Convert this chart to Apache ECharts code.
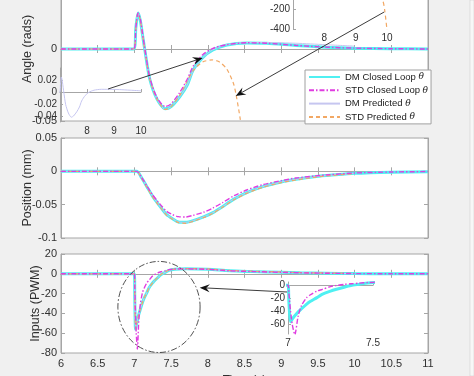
<!DOCTYPE html>
<html>
<head>
<meta charset="utf-8">
<script src="https://cdn.jsdelivr.net/npm/echarts@6/dist/echarts.min.js"></script>
<style>
  html, body { margin: 0; padding: 0; background: #f0f0f0; }
  #chart { width: 474px; height: 376px; }
</style>
</head>
<body>
<div id="chart"></div>
<script>
// --- angle (rads) ---
const angleT      = [6, 6.99, 7.02, 7.05, 7.08, 7.11, 7.14, 7.21, 7.31, 7.42, 7.5, 7.62, 7.72, 7.8, 7.93, 8.07, 8.26, 8.53, 8.8, 9.2, 9.6, 10, 10.5, 11];
const angleDM     = [0, 0, 0.015, 0.025, 0.02, 0.01, 0, -0.021, -0.035, -0.0415, -0.04, -0.033, -0.025, -0.0146, -0.006, -0.0007, 0.0028, 0.0042, 0.004, 0.0025, 0.0013, 0.0006, 0.0002, 0];
const angleSTD    = [0, 0, 0.015, 0.025, 0.021, 0.011, 0.001, -0.02, -0.034, -0.04, -0.038, -0.03, -0.021, -0.012, -0.004, 0.0005, 0.003, 0.0043, 0.004, 0.0025, 0.0013, 0.0006, 0.0002, 0];
const angleDMPredT = [6, 6.99, 7.02, 7.05, 7.08, 7.11, 7.14, 7.21, 7.31, 7.42, 7.5, 7.62, 7.72, 7.8, 7.93, 8.07, 8.26, 8.53, 8.8, 9.2, 9.6, 10];
const angleDMPred  = [0, 0, 0.015, 0.025, 0.02, 0.01, 0, -0.021, -0.035, -0.042, -0.04, -0.033, -0.025, -0.015, -0.006, -0.0005, 0.003, 0.0045, 0.0045, 0.004, 0.003, 0.002];
const angleSTDPredT = [6, 6.99, 7.02, 7.05, 7.08, 7.11, 7.14, 7.21, 7.31, 7.42, 7.5, 7.62, 7.72, 7.8, 7.93, 8.06, 8.16, 8.26, 8.35, 8.39, 8.44, 8.5, 8.7, 9.0, 9.3, 9.6, 9.75, 9.87, 9.93, 10];
const angleSTDPred  = [0, 0, 0.015, 0.025, 0.02, 0.01, 0, -0.021, -0.035, -0.042, -0.04, -0.032, -0.022, -0.015, -0.009, -0.0076, -0.009, -0.014, -0.024, -0.033, -0.048, -0.07, -0.3, -2, -10, -40, -75, -120, -220, -410];

// --- position (mm) ---
const posT    = [6, 7.03, 7.1, 7.17, 7.24, 7.31, 7.38, 7.44, 7.52, 7.6, 7.7, 7.8, 7.95, 8.07, 8.2, 8.35, 8.53, 8.75, 9.0, 9.2, 9.45, 9.66, 10, 10.5, 11];
const posDM   = [0, 0, -0.01, -0.023, -0.036, -0.047, -0.057, -0.065, -0.071, -0.076, -0.0765, -0.074, -0.068, -0.062, -0.053, -0.042, -0.032, -0.023, -0.016, -0.012, -0.008, -0.006, -0.003, -0.0012, -0.0005];
const posSTD  = [0, 0, -0.0095, -0.022, -0.034, -0.044, -0.053, -0.06, -0.065, -0.068, -0.0685, -0.066, -0.061, -0.055, -0.047, -0.037, -0.028, -0.02, -0.014, -0.01, -0.007, -0.005, -0.0025, -0.001, -0.0003];
const posPredT   = [6, 7.03, 7.1, 7.17, 7.24, 7.31, 7.38, 7.44, 7.52, 7.6, 7.7, 7.8, 7.95, 8.07, 8.2, 8.35, 8.53, 8.75, 9.0, 9.2, 9.45, 9.66, 10];
const posDMPred  = [0, 0, -0.01, -0.023, -0.036, -0.047, -0.057, -0.065, -0.071, -0.076, -0.0765, -0.074, -0.068, -0.062, -0.053, -0.042, -0.032, -0.023, -0.016, -0.012, -0.008, -0.006, -0.003];
const posSTDPred = [0, 0, -0.0105, -0.024, -0.037, -0.048, -0.058, -0.066, -0.072, -0.077, -0.078, -0.075, -0.069, -0.063, -0.054, -0.043, -0.033, -0.024, -0.017, -0.013, -0.009, -0.0065, -0.0035];

// --- inputs (PWM) ---
const inT   = [6, 7.0, 7.005, 7.015, 7.025, 7.04, 7.06, 7.08, 7.11, 7.13, 7.17, 7.2, 7.25, 7.28, 7.33, 7.37, 7.42, 7.47, 7.55, 7.7, 8.0, 8.3, 8.6, 9.0, 9.26, 9.6, 10, 10.5, 11];
const inDM  = [0, 0, -25, -56, -52, -47, -41, -36, -29, -25, -19, -14, -9, -6.5, -3, -0.5, 1.5, 3.5, 4.5, 5, 4.5, 3, 2.3, 1.5, 1, 0.6, 0.2, 0.1, 0];
const inSTD = [0, 0, -12, -40, -60, -76, -47, -31, -19, -15, -9, -6.5, -2, -0.5, 1.3, 2.2, 3.2, 4.2, 4.8, 5, 4.5, 3, 2.3, 1.5, 1, 0.6, 0.2, 0.1, 0];
const inPredT   = [6, 7.0, 7.005, 7.015, 7.025, 7.04, 7.06, 7.08, 7.11, 7.13, 7.17, 7.2, 7.25, 7.28, 7.33, 7.37, 7.42, 7.47, 7.55, 7.7, 8.0, 8.3, 8.6, 9.0, 9.26, 9.6, 10];
const inDMPred  = [0, 0, -25, -56, -52, -47, -41, -36, -29, -25, -19, -14, -9, -6.5, -3, -0.5, 1.5, 3.5, 4.5, 5, 4.5, 3, 2.3, 1.5, 1, 0.6, 0.2];
const inSTDPred = [0, 0, -25, -56, -52, -47, -41, -36, -29, -25, -19, -14, -9, -6.5, -3, -0.3, 1.8, 3.8, 4.8, 5.3, 4.9, 3.4, 2.7, 1.9, 1.3, 0.8, 0.4];

const legendNames = ['DM Closed Loop', 'STD Closed Loop', 'DM Predicted', 'STD Predicted'];

const FONT = 'Liberation Sans, Arial, sans-serif';
const AX = '#a6a6a6';
const TXT = '#303030';

const styles = {
    'DM Closed Loop':  { color: '#4ff0f2', width: 3, type: 'solid', z: 2 },
    'DM Predicted':    { color: '#c6c6f0', width: 1, type: 'solid', z: 3 },
    'STD Predicted':   { color: '#f2a864', width: 1.2, type: [4, 3], z: 4 },
    'STD Closed Loop': { color: '#e03ce0', width: 1.4, type: [5, 2, 1.5, 2], z: 5 }
};

const pairs = (t, v) => t.map((x, i) => [x, v[i]]);

function line(name, t, v, axis) {
    const s = styles[name];
    return {
        name, type: 'line', data: pairs(t, v),
        xAxisIndex: axis, yAxisIndex: axis,
        symbol: 'none', showSymbol: false, smooth: 0.25, clip: true, z: s.z,
        color: s.color, itemStyle: { color: s.color },
        lineStyle: { color: s.color, width: s.width, type: s.type }
    };
}

// main panels: grid 0 angle, 1 position, 2 inputs
const mainGrids = [
    { left: 61, top: -23, width: 367, height: 144 },
    { left: 61, top: 138, width: 367, height: 100 },
    { left: 61, top: 254, width: 367, height: 99 }
];
const yRanges = [
    { min: -0.05, max: 0.05, interval: 0.05, name: 'Angle (rads)', gap: 27 },
    { min: -0.1, max: 0.05, interval: 0.05, name: 'Position (mm)', gap: 27 },
    { min: -80, max: 20, interval: 20, name: 'Inputs (PWM)', gap: 19 }
];

const lbl = (size) => ({ color: TXT, fontFamily: FONT, fontSize: size });
const tick = { inside: true, length: 4, lineStyle: { color: AX } };

const grid = [], xAxis = [], yAxis = [];
mainGrids.forEach((g, i) => {
    grid.push(Object.assign({ show: true, backgroundColor: '#fff', borderColor: AX, borderWidth: 1, outerBoundsMode: 'none' }, g));
    const last = i === 2;
    xAxis.push({
        type: 'value', gridIndex: i, min: 6, max: 11, interval: 0.5,
        axisLine: { lineStyle: { color: AX } }, axisTick: tick, splitLine: { show: false },
        axisLabel: Object.assign({ show: last, margin: 5 }, lbl(11)),
        name: last ? 'Time (s)' : '', nameLocation: 'middle', nameGap: 22, nameMoveOverlap: false,
        nameTextStyle: lbl(12)
    });
    yAxis.push({
        type: 'value', gridIndex: i, min: yRanges[i].min, max: yRanges[i].max, interval: yRanges[i].interval,
        axisLine: { show: true, lineStyle: { color: AX } }, axisTick: tick, splitLine: { show: false },
        axisLabel: Object.assign({ margin: 4 }, lbl(11)),
        name: yRanges[i].name, nameLocation: 'middle', nameGap: yRanges[i].gap, nameMoveOverlap: false,
        nameTextStyle: lbl(12.5)
    });
});
// mirrored ticks (top / right)
mainGrids.forEach((g, i) => {
    xAxis.push({
        type: 'value', gridIndex: i, position: 'top', min: 6, max: 11, interval: 0.5,
        axisLine: { lineStyle: { color: AX } }, axisTick: tick, axisLabel: { show: false }, splitLine: { show: false }
    });
    yAxis.push({
        type: 'value', gridIndex: i, position: 'right', min: yRanges[i].min, max: yRanges[i].max, interval: yRanges[i].interval,
        axisLine: { show: true, lineStyle: { color: AX } }, axisTick: tick, axisLabel: { show: false }, splitLine: { show: false }
    });
});

// insets: grid 3 top-right (STD predicted), 4 top-left (DM predicted), 5 inputs zoom
grid.push({ left: 293, top: -11, width: 94, height: 40, show: false, outerBoundsMode: 'none' });
grid.push({ left: 60, top: 68, width: 81, height: 54, show: false, outerBoundsMode: 'none' });
grid.push({ left: 288, top: 282, width: 85, height: 52, show: false, outerBoundsMode: 'none' });

const insetTick = { inside: true, length: 3, lineStyle: { color: AX } };
function insetX(gi, min, max, interval, hideMin) {
    return {
        type: 'value', gridIndex: gi, min, max, interval,
        axisLine: { lineStyle: { color: AX } }, axisTick: insetTick, splitLine: { show: false },
        axisLabel: Object.assign({ margin: 4, showMinLabel: !hideMin }, lbl(10))
    };
}
function insetY(gi, min, max, values) {
    return {
        type: 'value', gridIndex: gi, min, max,
        axisLine: { show: true, lineStyle: { color: AX } }, splitLine: { show: false },
        axisTick: Object.assign({ customValues: values }, insetTick),
        axisLabel: Object.assign({ margin: 3, customValues: values }, lbl(10))
    };
}
xAxis.push(insetX(3, 7, 10, 1, true));
yAxis.push(insetY(3, -400, 0, [-400, -200, 0]));
xAxis.push(insetX(4, 7, 10, 1, true));
yAxis.push(insetY(4, -0.05, 0.04, [-0.04, -0.02, 0, 0.02]));
xAxis.push(insetX(5, 7, 7.5, 0.5, false));
yAxis.push(insetY(5, -75, 5, [-60, -40, -20, 0]));

const series = [
    line('DM Closed Loop', angleT, angleDM, 0),
    line('DM Predicted', angleDMPredT, angleDMPred, 0),
    line('STD Predicted', angleSTDPredT, angleSTDPred, 0),
    line('STD Closed Loop', angleT, angleSTD, 0),

    line('DM Closed Loop', posT, posDM, 1),
    line('DM Predicted', posPredT, posDMPred, 1),
    line('STD Predicted', posPredT, posSTDPred, 1),
    line('STD Closed Loop', posT, posSTD, 1),

    line('DM Closed Loop', inT, inDM, 2),
    line('DM Predicted', inPredT, inDMPred, 2),
    line('STD Predicted', inPredT, inSTDPred, 2),
    line('STD Closed Loop', inT, inSTD, 2),

    // insets use axis indices 6, 7, 8
    line('STD Predicted', angleSTDPredT, angleSTDPred, 6),
    line('DM Predicted', angleDMPredT, angleDMPred, 7),
    line('DM Closed Loop', inT, inDM, 8),
    line('STD Closed Loop', inT, inSTD, 8)
];

const chart = echarts.init(document.getElementById('chart'), null, { renderer: 'canvas' });
chart.setOption({
    animation: false,
    backgroundColor: '#f0f0f0',
    grid, xAxis, yAxis, series,
    legend: {
        data: legendNames, selectedMode: false,
        orient: 'vertical', left: 305, top: 70,
        itemWidth: 31, itemHeight: 10, itemGap: 3.3, padding: [2, 3, 2, 3],
        itemStyle: { opacity: 0 },
        backgroundColor: '#fff', borderColor: '#a0a0a0', borderWidth: 1, borderRadius: 0,
        textStyle: {
            color: '#202020', fontFamily: FONT, fontSize: 9.5,
            rich: { th: { fontFamily: 'DejaVu Serif', fontStyle: 'italic', fontSize: 9, color: '#202020' } }
        },
        formatter: n => n + ' {th|\u03b8}'
    }
});

// annotations placed in data coordinates of the respective panels (by series index)
const arrows = [
    { from: [13, [8.78, 0.005]], to: [0, [7.93, -0.0062]] },
    { from: [12, [9.91, -230]], to: [0, [8.38, -0.0326]] },
    { from: [14, [6.995, -10.4]], to: [8, [7.89, -14]] }
];
const ellipse = { series: 8, center: [7.335, -33.5], rx: 0.56, ry: 46 };

const graphic = [];
const px = (si, p) => chart.convertToPixel({ seriesIndex: si }, p);
arrows.forEach(a => {
    const p0 = px(a.from[0], a.from[1]);
    const p1 = px(a.to[0], a.to[1]);
    const dx = p1[0] - p0[0], dy = p1[1] - p0[1];
    const len = Math.hypot(dx, dy);
    const ux = dx / len, uy = dy / len;
    const L = 10, W = 4, N = 6.5;
    graphic.push({
        type: 'line', z: 100, silent: true,
        shape: { x1: p0[0], y1: p0[1], x2: p1[0] - ux * N, y2: p1[1] - uy * N },
        style: { stroke: '#262626', lineWidth: 0.9 }
    });
    graphic.push({
        type: 'polygon', z: 100, silent: true,
        shape: { points: [
            p1,
            [p1[0] - ux * L - uy * W, p1[1] - uy * L + ux * W],
            [p1[0] - ux * N, p1[1] - uy * N],
            [p1[0] - ux * L + uy * W, p1[1] - uy * L - ux * W]
        ] },
        style: { fill: '#111' }
    });
});
const c = px(ellipse.series, ellipse.center);
const ex = px(ellipse.series, [ellipse.center[0] + ellipse.rx, ellipse.center[1]]);
const ey = px(ellipse.series, [ellipse.center[0], ellipse.center[1] + ellipse.ry]);
const rx = Math.abs(ex[0] - c[0]), ry = Math.abs(c[1] - ey[1]);
graphic.push({
    type: 'circle', z: 100, silent: true, x: c[0], y: c[1], scaleY: ry / rx,
    shape: { cx: 0, cy: 0, r: rx },
    style: { fill: 'none', stroke: '#303030', lineWidth: 0.8, lineDash: [6, 2, 1.5, 2] }
});
// figure window edge on the right
graphic.push({
    type: 'rect', z: 0, silent: true, shape: { x: 470, y: 0, width: 4, height: 376 },
    style: { fill: '#f7f7f7', stroke: '#c8c8c8', lineWidth: 0.5 }
});
chart.setOption({ graphic });
</script>
</body>
</html>
